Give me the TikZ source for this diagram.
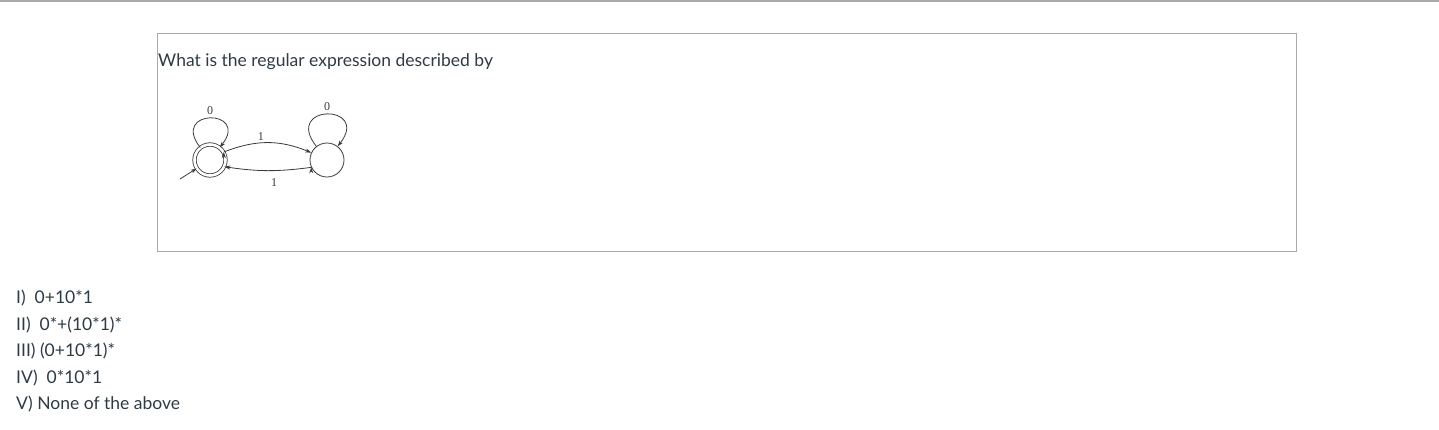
\documentclass[tikz,border=0pt]{standalone}
\usepackage{fontspec}
\setmainfont{Lato}
\newfontfamily\labelfont{Liberation Serif}
\usetikzlibrary{arrows.meta}
\definecolor{textgray}{HTML}{2D3B45}
\definecolor{framegray}{HTML}{AAAAAA}
\definecolor{inkgray}{HTML}{3A3A3A}
\begin{document}
\begin{tikzpicture}[x=1pt,y=-1pt,
    statenode/.style={circle,draw=inkgray,line width=0.8pt,inner sep=0pt},
    trans/.style={draw=inkgray,line width=0.8pt,-{Stealth[length=6pt,width=4pt]}},
    edgelabel/.style={font=\labelfont\fontsize{12}{13}\selectfont,text=inkgray,inner sep=1pt},
    answer/.style={anchor=west,inner sep=0pt,text=textgray,font=\fontsize{17.5}{21}\selectfont}]
    \useasboundingbox (0,0) rectangle (1439,429);
    % page rule and question frame
    \draw[framegray,line width=1.5pt] (0,1) -- (1439,1);
    \draw[framegray,line width=0.8pt] (157,33) rectangle (1296,251);
    \node[answer] (question) at (158,61.5) {What is the regular expression described by};
    % automaton
    \node[statenode,minimum size=31pt,double=white,double distance=2.6pt] (qa) at (210,160) {};
    \node[statenode,minimum size=34pt] (qb) at (327,160) {};
    \coordinate (start) at (180,179);
    \draw[trans] (start) -- (qa);
    \path[trans] (qa) edge[out=128,in=52,looseness=6.5] node[edgelabel,above,yshift=2pt] {0} (qa);
    \path[trans] (qb) edge[out=128,in=52,looseness=6.5] node[edgelabel,above,yshift=2pt] {0} (qb);
    \path[trans] (qa.30) edge[bend left=22] node[edgelabel,above,pos=0.42,yshift=1pt] {1} (qb.155);
    \path[trans] (qb.205) edge[bend left=8] node[edgelabel,below,pos=0.42,yshift=-7pt] {1} (qa.-25);
    % choices
    \foreach \txt [count=\k] in {I)\ \ 0+10*1, II)\ \ 0*+(10*1)*, III) (0+10*1)*, IV)\ \ 0*10*1, V) None of the above}
    {
        \node[answer] (choice\k) at (16,271.5+26.5*\k) {\txt};
    }
\end{tikzpicture}
\end{document}
